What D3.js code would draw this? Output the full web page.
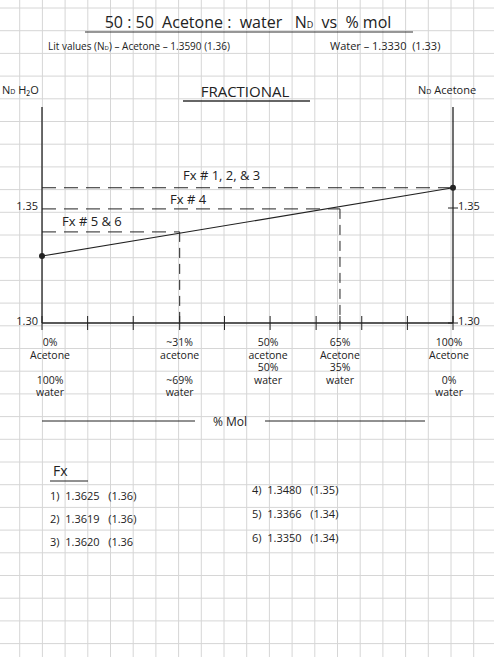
<!DOCTYPE html><html><head><meta charset="utf-8"><script src="https://cdn.jsdelivr.net/npm/d3@7"></script>
<style>body{margin:0;background:#fff}text{font-family:"Open Sans",sans-serif;fill:#222;white-space:pre}</style></head><body><svg id="c" width="494" height="657"></svg><script>
const endpointPct=[0,100];
const endpointNd=[1.3291,1.3588];
const fxLabels=["Fx # 1, 2, & 3","Fx # 4","Fx # 5 & 6"];
const fxNd=[1.3588,1.3496,1.3396];
const fxPct=[100,72.5,33.5];
const tickPct=[0,11.1,22.2,33.5,44.4,55.5,66.7,72.5,77.8,88.9,100];
const yTicks=[1.30,1.35];
const xLabels=[["0%","Acetone","","100%","water"],["~31%","acetone","","~69%","water"],["50%","acetone","50%","water"],["65%","Acetone","35%","water"],["100%","Acetone","","0%","water"]];
const xLabelPct=[0,33.5,55,72.5,100];
const fxList=["1)  1.3625   (1.36)","2)  1.3619   (1.36)","3)  1.3620   (1.36","4)  1.3480   (1.35)","5)  1.3366   (1.34)","6)  1.3350   (1.34)"];

const svg=d3.select("#c");
const g0=svg.append("g");
for(let x=-3;x<494;x+=22.7)g0.append("line").attr("x1",x).attr("x2",x).attr("y1",0).attr("y2",657).attr("stroke","#d6d6d6");
for(let y=8;y<657;y+=22.7)g0.append("line").attr("x1",0).attr("x2",494).attr("y1",y).attr("y2",y).attr("stroke","#d6d6d6");

const x=d3.scaleLinear().domain([0,100]).range([42,453]);
const y=d3.scaleLinear().domain([1.30,1.35]).range([323,208]);
const T=(t,px,py,s,a)=>svg.append("text").attr("x",px).attr("y",py).attr("font-size",s).attr("text-anchor",a||"start").attr("xml:space","preserve").text(t);
const t1=T("50 : 50  Acetone :  water   N",248,28,16,"middle");
t1.append("tspan").attr("font-size",9).text("D");t1.append("tspan").text("  vs  % mol");
svg.append("line").attr("x1",85).attr("x2",413).attr("y1",32).attr("y2",32).attr("stroke","#333");
const t2=T("Lit values (N",48,50,10);t2.append("tspan").attr("font-size",6).text("D");t2.append("tspan").text(") – Acetone – 1.3590 (1.36)");
T("Water – 1.3330  (1.33)",330,50,11);
const t3=T("N",2,94,11);t3.append("tspan").attr("font-size",7).text("D");t3.append("tspan").text(" H₂O");
const t4=T("N",418,94,11);t4.append("tspan").attr("font-size",7).text("D");t4.append("tspan").text(" Acetone");
T("FRACTIONAL",245,97,15,"middle");
svg.append("line").attr("x1",183).attr("x2",310).attr("y1",101).attr("y2",101).attr("stroke","#333").attr("stroke-width",1.5);
const A="#222";
svg.append("line").attr("x1",x(0)).attr("x2",x(0)).attr("y1",107).attr("y2",y(1.30)).attr("stroke",A).attr("stroke-width",1.3);
svg.append("line").attr("x1",x(100)).attr("x2",x(100)).attr("y1",107).attr("y2",y(1.30)).attr("stroke",A).attr("stroke-width",1.3);
svg.append("line").attr("x1",x(0)).attr("x2",x(100)).attr("y1",y(1.30)).attr("y2",y(1.30)).attr("stroke",A).attr("stroke-width",1.3);
tickPct.forEach(p=>svg.append("line").attr("x1",x(p)).attr("x2",x(p)).attr("y1",y(1.30)-7).attr("y2",y(1.30)+7).attr("stroke",A));
yTicks.forEach(v=>{T(v.toFixed(2),38,y(v)+2,11,"end");T(v.toFixed(2),458,y(v)+2,11);
 svg.append("line").attr("x1",x(100)-5).attr("x2",x(100)+5).attr("y1",y(v)).attr("y2",y(v)).attr("stroke",A);});
svg.append("line").attr("x1",x(0)).attr("x2",x(100)).attr("y1",y(endpointNd[0])).attr("y2",y(endpointNd[1])).attr("stroke",A).attr("stroke-width",1.1);
endpointPct.forEach((p,i)=>svg.append("circle").attr("cx",x(p)).attr("cy",y(endpointNd[i])).attr("r",3).attr("fill",A));
const lx=[193,180,72],ly=[-8,-5,-6];
fxNd.forEach((v,i)=>{svg.append("line").attr("x1",x(0)).attr("x2",x(fxPct[i])).attr("y1",y(v)).attr("y2",y(v)).attr("stroke",A).attr("stroke-dasharray","14,8");
 if(fxPct[i]<100)svg.append("line").attr("x1",x(fxPct[i])).attr("x2",x(fxPct[i])).attr("y1",y(v)).attr("y2",y(1.30)).attr("stroke",A).attr("stroke-dasharray","10,6");
 T(fxLabels[i],lx[i]-10,y(v)+ly[i],13);});
xLabels.forEach((L,i)=>L.forEach((t,j)=>T(t,x(xLabelPct[i])+(i==0?8:i==4?-4:0),346+j*12.5,10.5,"middle")));
svg.append("line").attr("x1",42).attr("x2",195).attr("y1",421).attr("y2",421).attr("stroke",A);
svg.append("line").attr("x1",265).attr("x2",425).attr("y1",421).attr("y2",421).attr("stroke",A);
T("% Mol",230,426,12,"middle");
T("Fx",53,476,14);svg.append("line").attr("x1",50).attr("x2",88).attr("y1",481).attr("y2",481).attr("stroke",A);
fxList.forEach((t,i)=>T(t,i<3?50:252,i<3?500+i*23:494+(i-3)*24,11));
</script></body></html>
